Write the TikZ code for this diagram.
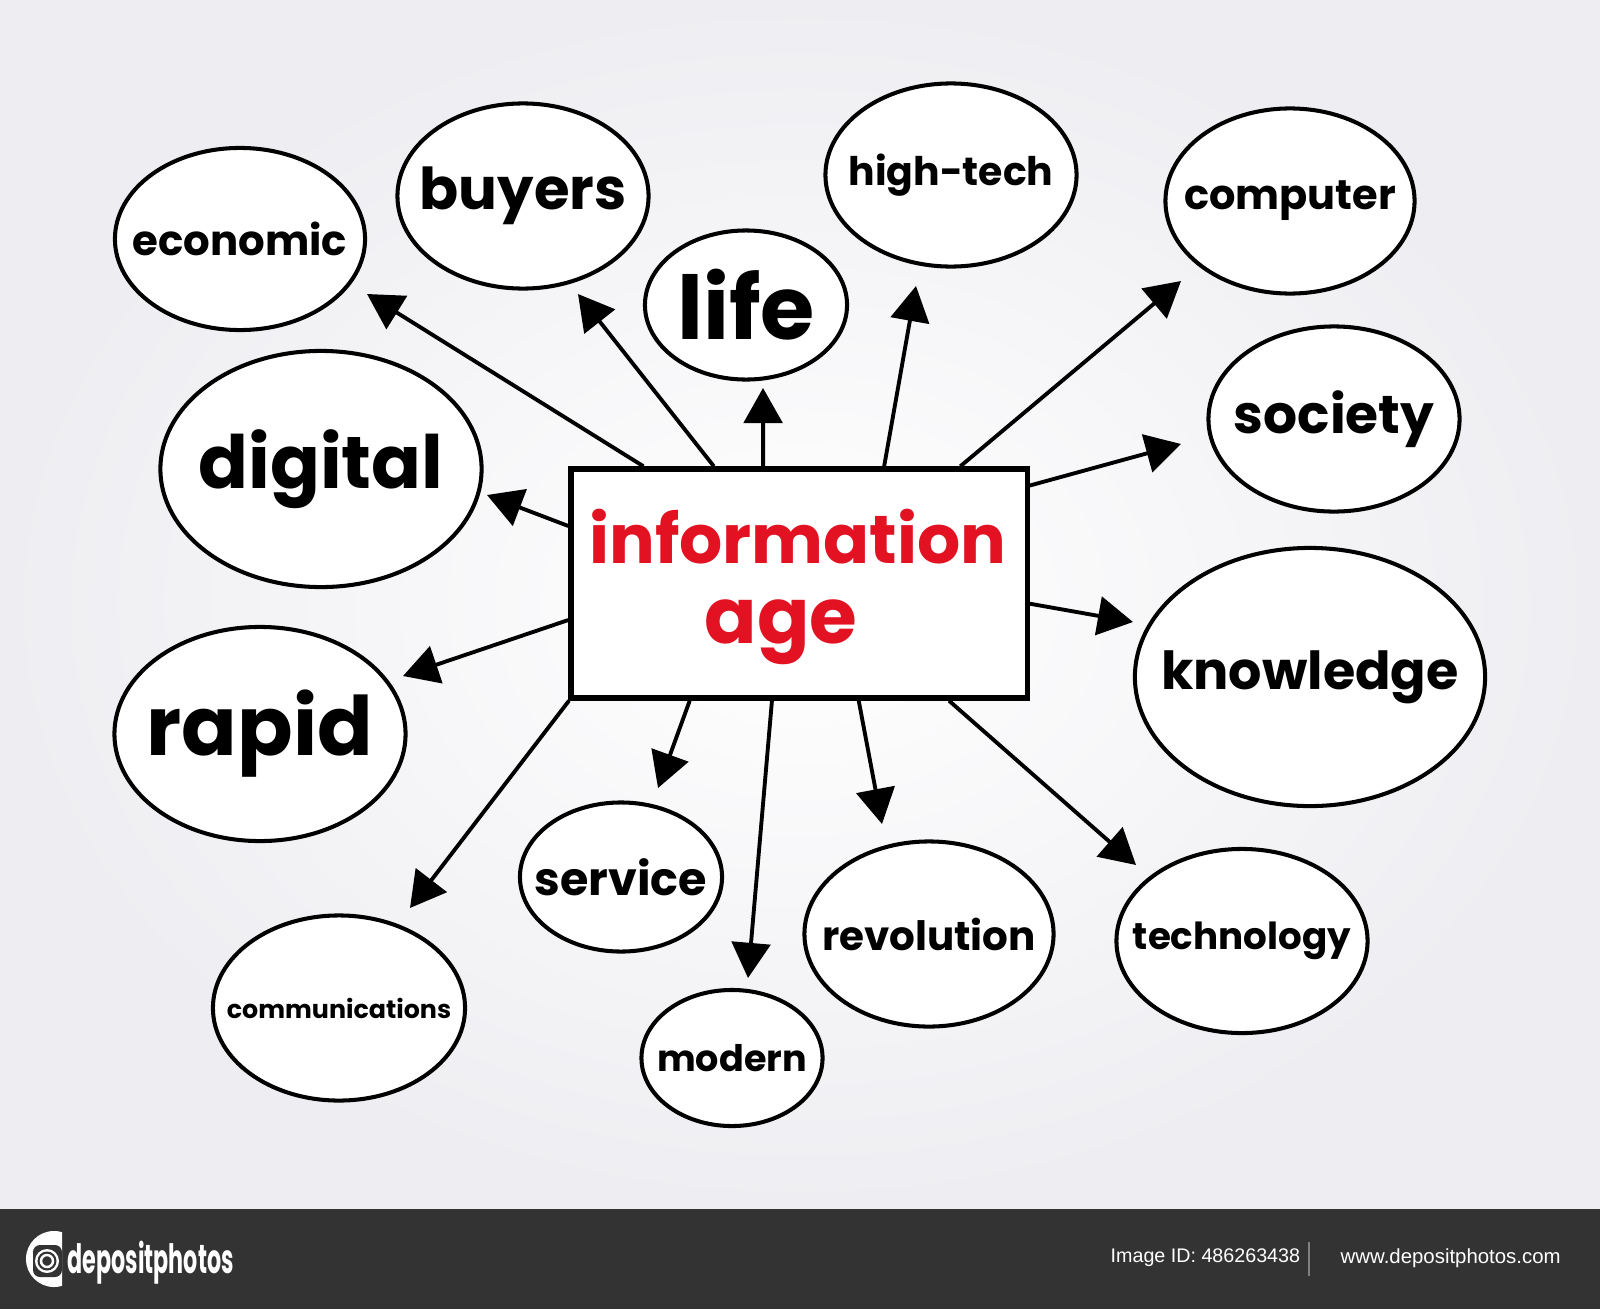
\documentclass[tikz,border=0pt]{standalone}
\usepackage{graphicx}
\usepackage{fontspec}
\setmainfont{Poppins}
\setsansfont{Liberation Sans}
\usetikzlibrary{shapes.geometric,arrows.meta}
\definecolor{infored}{RGB}{226,18,34}
\definecolor{barcol}{RGB}{51,51,51}
\definecolor{bgedge}{RGB}{238,238,242}
\tikzset{bubble/.style={ellipse,draw,line width=1.15pt,fill=white,inner sep=0pt},
	 word/.style={font=\fontsize{#1}{#1}\selectfont\bfseries},
	 arr/.style={line width=1.1pt,-{Triangle[length=10pt,width=11pt]}},
	 ibox/.style={rectangle,draw,line width=1.5pt,fill=white,minimum width=4.56cm,minimum height=2.29cm},
	 bartext/.style={anchor=west,text=white,inner sep=0pt,font=\sffamily\fontsize{5.6}{5.6}\selectfont}
	 }

\begin{document}
\begin{tikzpicture}[x=0.01cm,y=-0.01cm]
	\useasboundingbox (0,0) rectangle (1600,1309);
	\shade[inner color=white,outer color=bgedge] (0,0) rectangle (1600,1209);
	% centre box
	\node[ibox] (info) at (799,583.5) {};
	\node[word=19.3,text=infored] (infoa) at (798,537) {information};
	\node[word=22,text=infored] (infob) at (781,632) {age};
	% bubbles
	\node[bubble,minimum width=2.50cm,minimum height=1.82cm] (economic) at (240,239) [label={[word=11.9]center:economic}] {};
	\node[bubble,minimum width=2.51cm,minimum height=1.85cm] (buyers) at (523,196) [label={[word=16.4]center:buyers}] {};
	\node[bubble,minimum width=2.51cm,minimum height=1.83cm] (hightech) at (951,175) [label={[word=11.2]center:high-tech}] {};
	\node[bubble,minimum width=2.49cm,minimum height=1.85cm] (computer) at (1290,201) [label={[word=11.8]center:computer}] {};
	\node[bubble,minimum width=2.02cm,minimum height=1.49cm] (life) at (746,305) [label={[word=25]center:life}] {};
	\node[bubble,minimum width=3.21cm,minimum height=2.36cm] (digital) at (321,469) [label={[word=20.9]center:digital}] {};
	\node[bubble,minimum width=2.51cm,minimum height=1.85cm] (society) at (1334,419) [label={[word=15.2]center:society}] {};
	\node[bubble,minimum width=3.50cm,minimum height=2.58cm] (knowledge) at (1310,677) [label={[word=14.9]center:knowledge}] {};
	\node[bubble,minimum width=2.91cm,minimum height=2.14cm] (rapid) at (260,734) [label={[word=23.3]center:rapid}] {};
	\node[bubble,minimum width=2.02cm,minimum height=1.49cm] (service) at (621,877) [label={[word=13.1]center:service}] {};
	\node[bubble,minimum width=2.49cm,minimum height=1.85cm] (revolution) at (929,934) [label={[word=11.5]center:revolution}] {};
	\node[bubble,minimum width=2.51cm,minimum height=1.84cm] (technology) at (1242,941) [label={[word=10.6]center:technology}] {};
	\node[bubble,minimum width=2.52cm,minimum height=1.85cm] (communications) at (339,1008) [label={[word=7.2]center:communications}] {};
	\node[bubble,minimum width=1.81cm,minimum height=1.36cm] (modern) at (732,1058) [label={[word=10.4]center:modern}] {};
	% arrow tips
	\coordinate (t1) at (367,294); \coordinate (t2) at (578,294);
	\coordinate (t3) at (763,388); \coordinate (t4) at (916,286);
	\coordinate (t5) at (1181,281); \coordinate (t6) at (1181,444);
	\coordinate (t7) at (1133,622); \coordinate (t8) at (1136,865);
	\coordinate (t9) at (882,824); \coordinate (t10) at (748,978);
	\coordinate (t11) at (658,788); \coordinate (t12) at (410,908);
	\coordinate (t13) at (403,676); \coordinate (t14) at (487,495);
	\draw[arr] (info.143) to (t1);
	\draw[arr] (info.126) to (t2);
	\draw[arr] (info.107) to (t3);
	\draw[arr] (info.54) to (t4);
	\draw[arr] (info.36) to (t5);
	\draw[arr] (info.23) to (t6);
	\draw[arr] (info.-5) to (t7);
	\draw[arr] (info.-38) to (t8);
	\draw[arr] (info.-63) to (t9);
	\draw[arr] (info.257) to (t10);
	\draw[arr] (info.227) to (t11);
	\draw[arr] (info.207) to (t12);
	\draw[arr] (info.189) to (t13);
	\draw[arr] (info.166) to (t14);
	% footer
	\fill[barcol] (0,1209) rectangle (1600,1309);
	\begin{scope}
		\clip (0,1209) rectangle (62,1309);
		\node[circle,fill=white,minimum size=0.56cm,inner sep=0pt] (logo) at (54,1259) {};
	\end{scope}
	\fill[barcol,rounded corners=2pt] (33,1245) rectangle (62,1277);
	\fill[white] (47,1261) circle (0.12cm);
	\fill[barcol] (47,1261) circle (0.095cm);
	\draw[white,line width=0.7pt] (47,1261) circle (0.06cm);
	\node[anchor=base west,text=white,inner sep=0pt,font=\fontsize{11.5}{11.5}\selectfont\bfseries] (brand) at (67,1273) {\scalebox{0.55}[1]{depositphotos}};
	\node[bartext] (imgid) at (1110,1258) {Image ID: 486263438};
	\coordinate (s1) at (1309,1242); \coordinate (s2) at (1309,1276);
	\draw[gray,line width=0.3pt] (s1) -- (s2);
	\node[bartext,font=\sffamily\fontsize{5.8}{5.8}\selectfont] (url) at (1340,1258) {www.depositphotos.com};
\end{tikzpicture}
\end{document}
